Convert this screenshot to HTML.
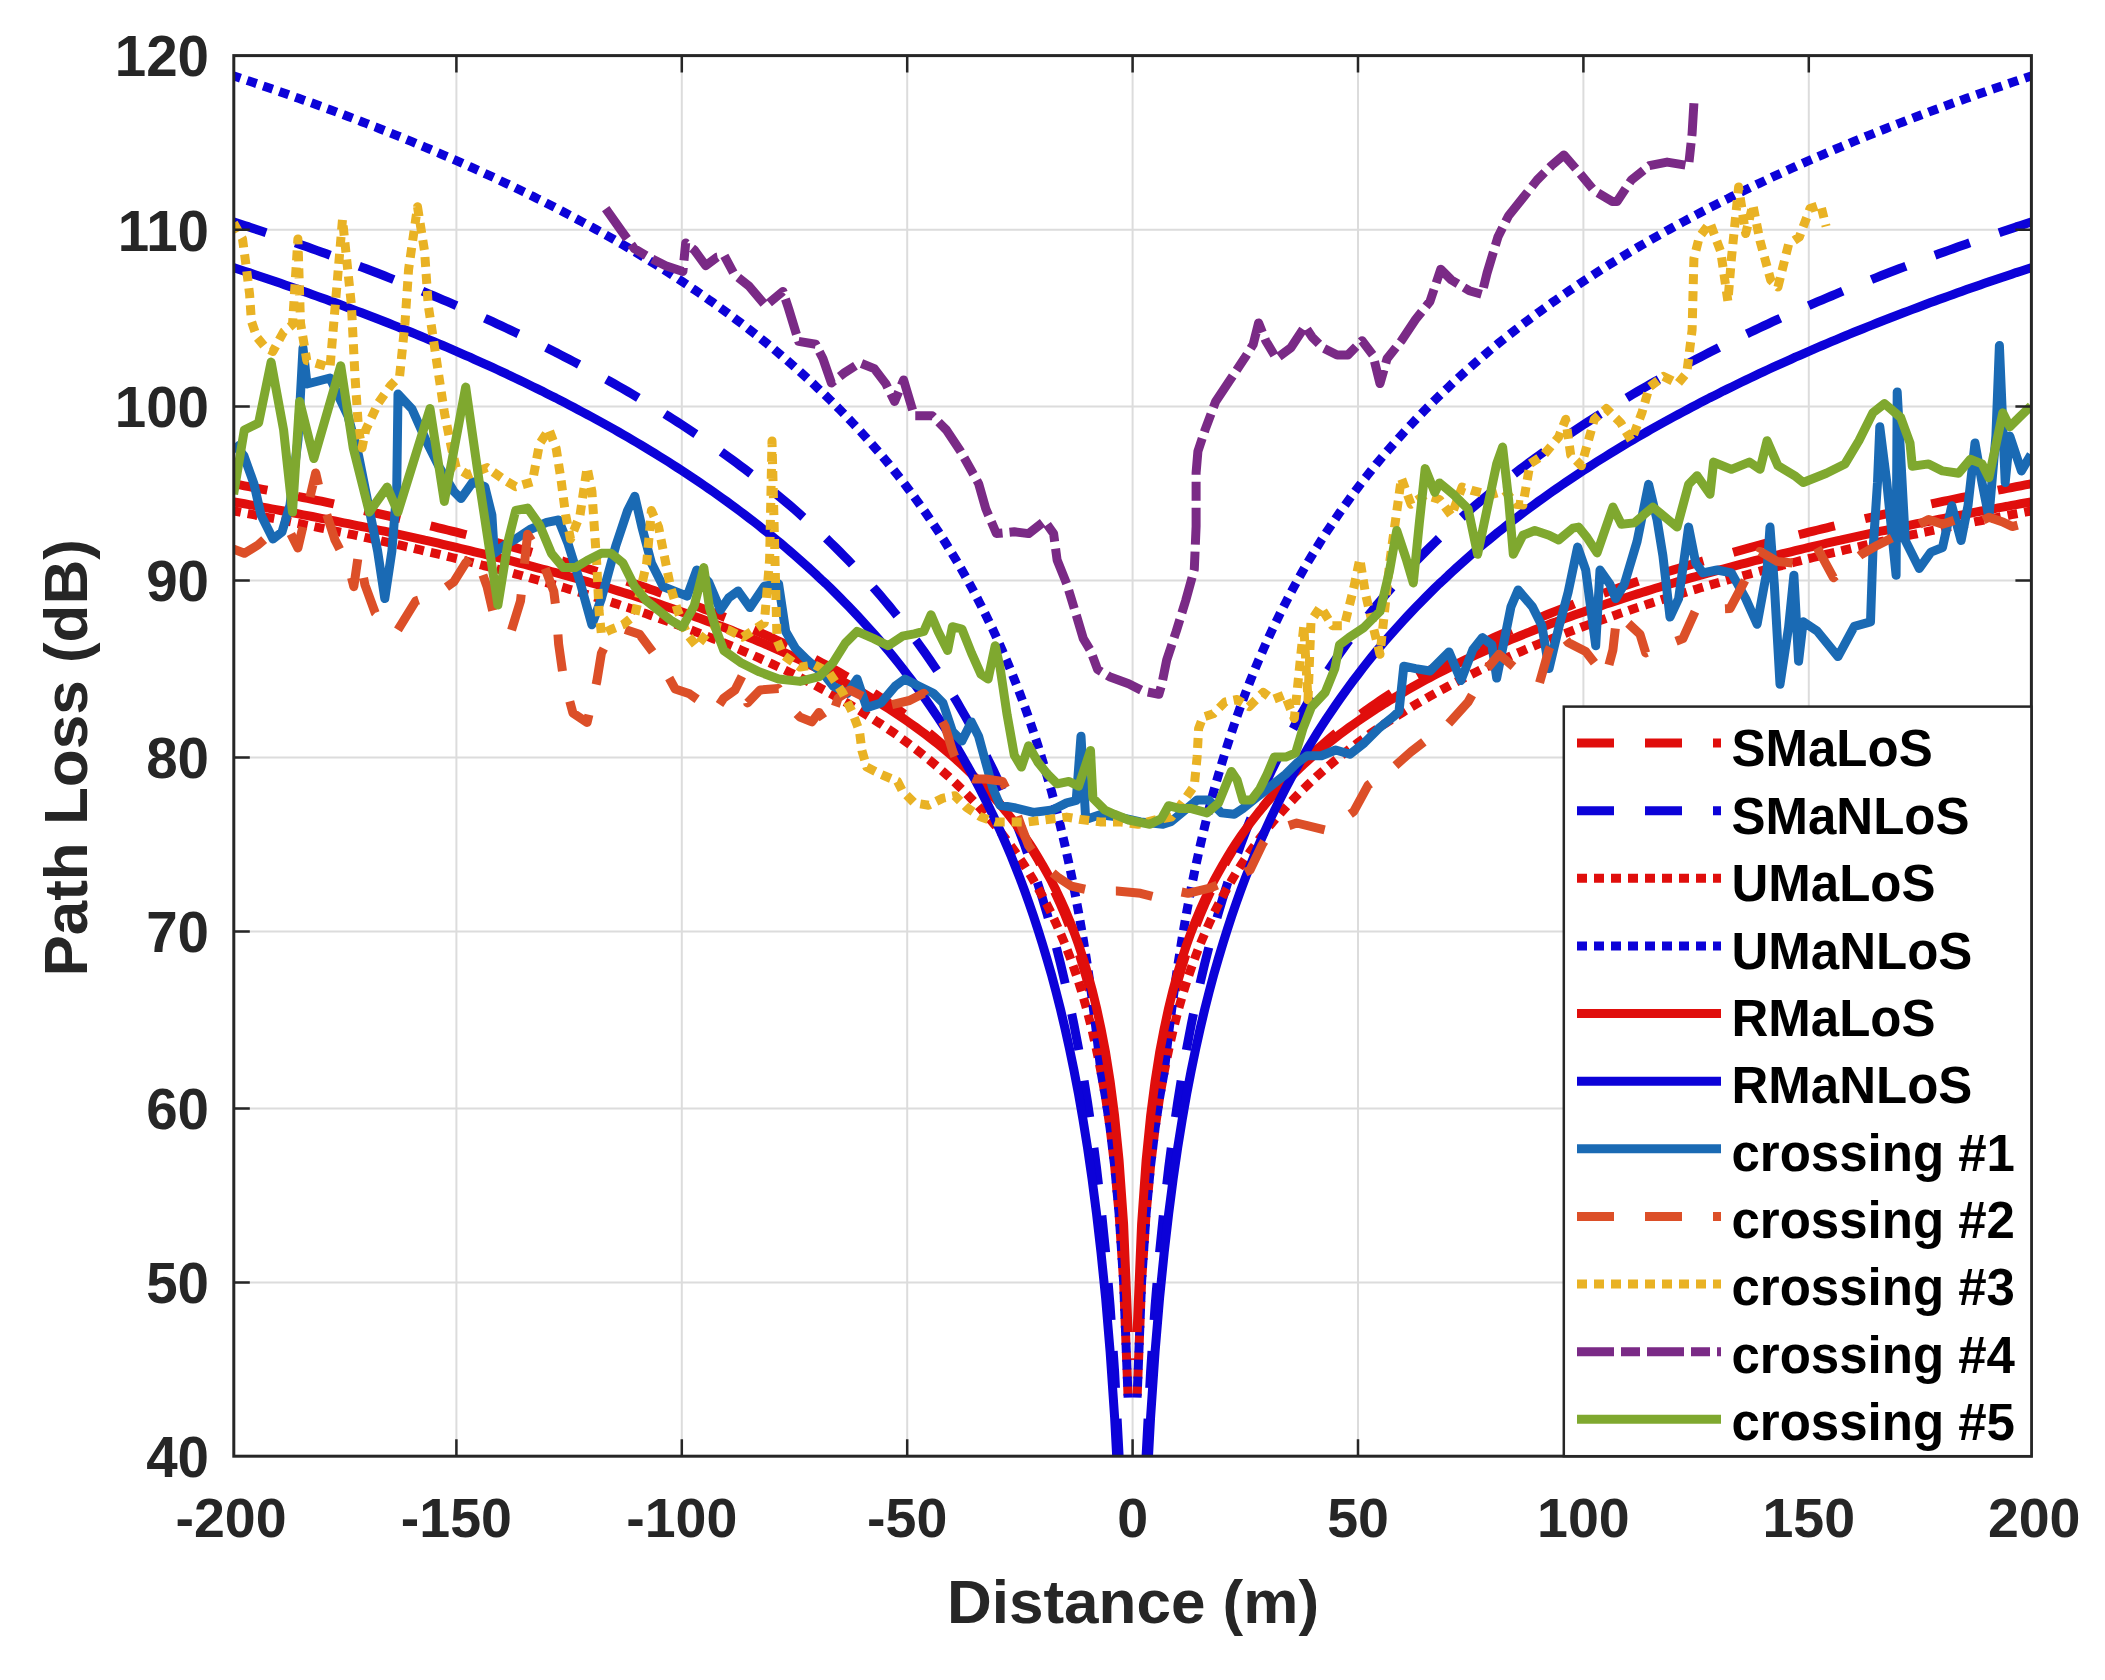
<!DOCTYPE html>
<html><head><meta charset="utf-8"><title>Path Loss vs Distance</title>
<style>html,body{margin:0;padding:0;background:#fff;overflow:hidden;}svg{display:block;}</style>
</head><body>
<svg width="2105" height="1680" viewBox="0 0 2105 1680">
<defs><clipPath id="c"><rect x="233.8" y="55.6" width="1797.6000000000001" height="1400.6000000000001"/></clipPath></defs>
<rect width="2105" height="1680" fill="#fff"/>
<path d="M456.4,55.6 V1456.2 M681.8,55.6 V1456.2 M907.2,55.6 V1456.2 M1132.6,55.6 V1456.2 M1358.0,55.6 V1456.2 M1583.4,55.6 V1456.2 M1808.8,55.6 V1456.2 M233.8,1282.5 H2031.4 M233.8,1108.6 H2031.4 M233.8,931.5 H2031.4 M233.8,757.5 H2031.4 M233.8,580.6 H2031.4 M233.8,406.5 H2031.4 M233.8,229.7 H2031.4" stroke="#dcdcdc" stroke-width="2" fill="none"/>
<g clip-path="url(#c)" fill="none" stroke-linejoin="round">
<path d="M231.0,483.2 L235.5,484.1 L240.0,484.9 L244.5,485.8 L249.0,486.7 L253.5,487.6 L258.0,488.4 L262.6,489.3 L267.1,490.2 L271.6,491.1 L276.1,492.0 L280.6,492.9 L285.1,493.8 L289.6,494.7 L294.1,495.6 L298.6,496.6 L303.1,497.5 L307.6,498.4 L312.1,499.3 L316.7,500.3 L321.2,501.2 L325.7,502.2 L330.2,503.1 L334.7,504.1 L339.2,505.1 L343.7,506.0 L348.2,507.0 L352.7,508.0 L357.2,509.0 L361.7,510.0 L366.2,511.0 L370.7,512.0 L375.3,513.0 L379.8,514.0 L384.3,515.0 L388.8,516.0 L393.3,517.1 L397.8,518.1 L402.3,519.2 L406.8,520.2 L411.3,521.3 L415.8,522.3 L420.3,523.4 L424.8,524.5 L429.4,525.6 L433.9,526.7 L438.4,527.8 L442.9,528.9 L447.4,530.0 L451.9,531.1 L456.4,532.2 L460.9,533.4 L465.4,534.5 L469.9,535.6 L474.4,536.8 L478.9,538.0 L483.4,539.1 L488.0,540.3 L492.5,541.5 L497.0,542.7 L501.5,543.9 L506.0,545.1 L510.5,546.3 L515.0,547.6 L519.5,548.8 L524.0,550.1 L528.5,551.3 L533.0,552.6 L537.5,553.8 L542.1,555.1 L546.6,556.4 L551.1,557.7 L555.6,559.0 L560.1,560.4 L564.6,561.7 L569.1,563.0 L573.6,564.4 L578.1,565.8 L582.6,567.1 L587.1,568.5 L591.6,569.9 L596.1,571.3 L600.7,572.7 L605.2,574.2 L609.7,575.6 L614.2,577.1 L618.7,578.6 L623.2,580.0 L627.7,581.5 L632.2,583.0 L636.7,584.6 L641.2,586.1 L645.7,587.6 L650.2,589.2 L654.8,590.8 L659.3,592.4 L663.8,594.0 L668.3,595.6 L672.8,597.2 L677.3,598.9 L681.8,600.6 L686.3,602.2 L690.8,603.9 L695.3,605.7 L699.8,607.4 L704.3,609.2 L708.8,610.9 L713.4,612.7 L717.9,614.5 L722.4,616.4 L726.9,618.2 L731.4,620.1 L735.9,622.0 L740.4,623.9 L744.9,625.8 L749.4,627.8 L753.9,629.8 L758.4,631.8 L762.9,633.8 L767.5,635.8 L772.0,637.9 L776.5,640.0 L781.0,642.1 L785.5,644.3 L790.0,646.5 L794.5,648.7 L799.0,650.9 L803.5,653.2 L808.0,655.5 L812.5,657.8 L817.0,660.2 L821.5,662.6 L826.1,665.0 L830.6,667.5 L835.1,670.0 L839.6,672.5 L844.1,675.1 L848.6,677.7 L853.1,680.4 L857.6,683.1 L862.1,685.8 L866.6,688.6 L871.1,691.5 L875.6,694.4 L880.2,697.3 L884.7,700.3 L889.2,703.4 L893.7,706.5 L898.2,709.6 L902.7,712.9 L907.2,716.1 L911.7,719.5 L916.2,722.9 L920.7,726.4 L925.2,730.0 L929.7,733.6 L934.2,737.3 L938.8,741.2 L943.3,745.1 L947.8,749.0 L952.3,753.1 L956.8,757.3 L961.3,761.6 L965.8,766.0 L970.3,770.6 L974.8,775.2 L979.3,780.0 L983.8,785.0 L988.3,790.1 L992.9,795.3 L997.4,800.7 L1001.9,806.3 L1006.4,812.1 L1010.9,818.1 L1015.4,824.4 L1019.9,830.8 L1024.4,837.6 L1028.9,844.6 L1033.4,851.9 L1037.9,859.6 L1042.4,867.7 L1046.9,876.1 L1051.5,885.0 L1056.0,894.5 L1060.5,904.4 L1065.0,915.1 L1069.5,926.4 L1074.0,938.6 L1078.5,951.8 L1083.0,966.2 L1087.5,981.8 L1092.0,999.2 L1096.5,1018.6 L1101.0,1040.5 L1105.6,1065.9 L1110.1,1095.8 L1114.6,1132.5 L1119.1,1179.8 L1123.6,1246.4 L1128.1,1360.3 M2034.2,483.2 L2029.7,484.1 L2025.2,484.9 L2020.7,485.8 L2016.2,486.7 L2011.7,487.6 L2007.2,488.4 L2002.6,489.3 L1998.1,490.2 L1993.6,491.1 L1989.1,492.0 L1984.6,492.9 L1980.1,493.8 L1975.6,494.7 L1971.1,495.6 L1966.6,496.6 L1962.1,497.5 L1957.6,498.4 L1953.1,499.3 L1948.5,500.3 L1944.0,501.2 L1939.5,502.2 L1935.0,503.1 L1930.5,504.1 L1926.0,505.1 L1921.5,506.0 L1917.0,507.0 L1912.5,508.0 L1908.0,509.0 L1903.5,510.0 L1899.0,511.0 L1894.5,512.0 L1889.9,513.0 L1885.4,514.0 L1880.9,515.0 L1876.4,516.0 L1871.9,517.1 L1867.4,518.1 L1862.9,519.2 L1858.4,520.2 L1853.9,521.3 L1849.4,522.3 L1844.9,523.4 L1840.4,524.5 L1835.8,525.6 L1831.3,526.7 L1826.8,527.8 L1822.3,528.9 L1817.8,530.0 L1813.3,531.1 L1808.8,532.2 L1804.3,533.4 L1799.8,534.5 L1795.3,535.6 L1790.8,536.8 L1786.3,538.0 L1781.8,539.1 L1777.2,540.3 L1772.7,541.5 L1768.2,542.7 L1763.7,543.9 L1759.2,545.1 L1754.7,546.3 L1750.2,547.6 L1745.7,548.8 L1741.2,550.1 L1736.7,551.3 L1732.2,552.6 L1727.7,553.8 L1723.1,555.1 L1718.6,556.4 L1714.1,557.7 L1709.6,559.0 L1705.1,560.4 L1700.6,561.7 L1696.1,563.0 L1691.6,564.4 L1687.1,565.8 L1682.6,567.1 L1678.1,568.5 L1673.6,569.9 L1669.1,571.3 L1664.5,572.7 L1660.0,574.2 L1655.5,575.6 L1651.0,577.1 L1646.5,578.6 L1642.0,580.0 L1637.5,581.5 L1633.0,583.0 L1628.5,584.6 L1624.0,586.1 L1619.5,587.6 L1615.0,589.2 L1610.4,590.8 L1605.9,592.4 L1601.4,594.0 L1596.9,595.6 L1592.4,597.2 L1587.9,598.9 L1583.4,600.6 L1578.9,602.2 L1574.4,603.9 L1569.9,605.7 L1565.4,607.4 L1560.9,609.2 L1556.4,610.9 L1551.8,612.7 L1547.3,614.5 L1542.8,616.4 L1538.3,618.2 L1533.8,620.1 L1529.3,622.0 L1524.8,623.9 L1520.3,625.8 L1515.8,627.8 L1511.3,629.8 L1506.8,631.8 L1502.3,633.8 L1497.7,635.8 L1493.2,637.9 L1488.7,640.0 L1484.2,642.1 L1479.7,644.3 L1475.2,646.5 L1470.7,648.7 L1466.2,650.9 L1461.7,653.2 L1457.2,655.5 L1452.7,657.8 L1448.2,660.2 L1443.7,662.6 L1439.1,665.0 L1434.6,667.5 L1430.1,670.0 L1425.6,672.5 L1421.1,675.1 L1416.6,677.7 L1412.1,680.4 L1407.6,683.1 L1403.1,685.8 L1398.6,688.6 L1394.1,691.5 L1389.6,694.4 L1385.0,697.3 L1380.5,700.3 L1376.0,703.4 L1371.5,706.5 L1367.0,709.6 L1362.5,712.9 L1358.0,716.1 L1353.5,719.5 L1349.0,722.9 L1344.5,726.4 L1340.0,730.0 L1335.5,733.6 L1331.0,737.3 L1326.4,741.2 L1321.9,745.1 L1317.4,749.0 L1312.9,753.1 L1308.4,757.3 L1303.9,761.6 L1299.4,766.0 L1294.9,770.6 L1290.4,775.2 L1285.9,780.0 L1281.4,785.0 L1276.9,790.1 L1272.3,795.3 L1267.8,800.7 L1263.3,806.3 L1258.8,812.1 L1254.3,818.1 L1249.8,824.4 L1245.3,830.8 L1240.8,837.6 L1236.3,844.6 L1231.8,851.9 L1227.3,859.6 L1222.8,867.7 L1218.3,876.1 L1213.7,885.0 L1209.2,894.5 L1204.7,904.4 L1200.2,915.1 L1195.7,926.4 L1191.2,938.6 L1186.7,951.8 L1182.2,966.2 L1177.7,981.8 L1173.2,999.2 L1168.7,1018.6 L1164.2,1040.5 L1159.6,1065.9 L1155.1,1095.8 L1150.6,1132.5 L1146.1,1179.8 L1141.6,1246.4 L1137.1,1360.3" stroke="#e00e0c" stroke-width="9" stroke-dasharray="37 31"/>
<path d="M231.0,221.0 L235.5,222.5 L240.0,224.0 L244.5,225.5 L249.0,226.9 L253.5,228.5 L258.0,230.0 L262.6,231.5 L267.1,233.0 L271.6,234.5 L276.1,236.1 L280.6,237.6 L285.1,239.2 L289.6,240.8 L294.1,242.3 L298.6,243.9 L303.1,245.5 L307.6,247.1 L312.1,248.7 L316.7,250.4 L321.2,252.0 L325.7,253.6 L330.2,255.3 L334.7,256.9 L339.2,258.6 L343.7,260.3 L348.2,262.0 L352.7,263.7 L357.2,265.4 L361.7,267.1 L366.2,268.8 L370.7,270.5 L375.3,272.3 L379.8,274.0 L384.3,275.8 L388.8,277.6 L393.3,279.4 L397.8,281.2 L402.3,283.0 L406.8,284.8 L411.3,286.6 L415.8,288.5 L420.3,290.3 L424.8,292.2 L429.4,294.1 L433.9,296.0 L438.4,297.9 L442.9,299.8 L447.4,301.7 L451.9,303.6 L456.4,305.6 L460.9,307.6 L465.4,309.6 L469.9,311.5 L474.4,313.6 L478.9,315.6 L483.4,317.6 L488.0,319.7 L492.5,321.7 L497.0,323.8 L501.5,325.9 L506.0,328.0 L510.5,330.1 L515.0,332.3 L519.5,334.4 L524.0,336.6 L528.5,338.8 L533.0,341.0 L537.5,343.2 L542.1,345.4 L546.6,347.7 L551.1,350.0 L555.6,352.2 L560.1,354.6 L564.6,356.9 L569.1,359.2 L573.6,361.6 L578.1,364.0 L582.6,366.4 L587.1,368.8 L591.6,371.2 L596.1,373.7 L600.7,376.2 L605.2,378.7 L609.7,381.2 L614.2,383.7 L618.7,386.3 L623.2,388.9 L627.7,391.5 L632.2,394.1 L636.7,396.8 L641.2,399.5 L645.7,402.2 L650.2,404.9 L654.8,407.7 L659.3,410.5 L663.8,413.3 L668.3,416.1 L672.8,419.0 L677.3,421.9 L681.8,424.8 L686.3,427.8 L690.8,430.8 L695.3,433.8 L699.8,436.8 L704.3,439.9 L708.8,443.0 L713.4,446.2 L717.9,449.4 L722.4,452.6 L726.9,455.8 L731.4,459.1 L735.9,462.4 L740.4,465.8 L744.9,469.2 L749.4,472.6 L753.9,476.1 L758.4,479.6 L762.9,483.2 L767.5,486.8 L772.0,490.5 L776.5,494.2 L781.0,497.9 L785.5,501.7 L790.0,505.5 L794.5,509.4 L799.0,513.4 L803.5,517.4 L808.0,521.4 L812.5,525.6 L817.0,529.7 L821.5,534.0 L826.1,538.2 L830.6,542.6 L835.1,547.0 L839.6,551.5 L844.1,556.1 L848.6,560.7 L853.1,565.4 L857.6,570.2 L862.1,575.1 L866.6,580.0 L871.1,585.0 L875.6,590.1 L880.2,595.3 L884.7,600.6 L889.2,606.0 L893.7,611.5 L898.2,617.1 L902.7,622.8 L907.2,628.7 L911.7,634.6 L916.2,640.7 L920.7,646.9 L925.2,653.2 L929.7,659.6 L934.2,666.3 L938.8,673.0 L943.3,679.9 L947.8,687.0 L952.3,694.3 L956.8,701.7 L961.3,709.4 L965.8,717.2 L970.3,725.3 L974.8,733.6 L979.3,742.1 L983.8,750.9 L988.3,759.9 L992.9,769.2 L997.4,778.9 L1001.9,788.9 L1006.4,799.2 L1010.9,809.9 L1015.4,821.0 L1019.9,832.5 L1024.4,844.5 L1028.9,857.0 L1033.4,870.1 L1037.9,883.8 L1042.4,898.1 L1046.9,913.2 L1051.5,929.1 L1056.0,945.9 L1060.5,963.7 L1065.0,982.7 L1069.5,1003.0 L1074.0,1024.8 L1078.5,1048.3 L1083.0,1073.9 L1087.5,1101.9 L1092.0,1132.9 L1096.5,1167.6 L1101.0,1206.8 L1105.6,1252.2 L1110.1,1305.8 L1114.6,1371.4 L1119.1,1456.0 L1123.6,1575.2 L1128.1,1779.1 M2034.2,221.0 L2029.7,222.5 L2025.2,224.0 L2020.7,225.5 L2016.2,226.9 L2011.7,228.5 L2007.2,230.0 L2002.6,231.5 L1998.1,233.0 L1993.6,234.5 L1989.1,236.1 L1984.6,237.6 L1980.1,239.2 L1975.6,240.8 L1971.1,242.3 L1966.6,243.9 L1962.1,245.5 L1957.6,247.1 L1953.1,248.7 L1948.5,250.4 L1944.0,252.0 L1939.5,253.6 L1935.0,255.3 L1930.5,256.9 L1926.0,258.6 L1921.5,260.3 L1917.0,262.0 L1912.5,263.7 L1908.0,265.4 L1903.5,267.1 L1899.0,268.8 L1894.5,270.5 L1889.9,272.3 L1885.4,274.0 L1880.9,275.8 L1876.4,277.6 L1871.9,279.4 L1867.4,281.2 L1862.9,283.0 L1858.4,284.8 L1853.9,286.6 L1849.4,288.5 L1844.9,290.3 L1840.4,292.2 L1835.8,294.1 L1831.3,296.0 L1826.8,297.9 L1822.3,299.8 L1817.8,301.7 L1813.3,303.6 L1808.8,305.6 L1804.3,307.6 L1799.8,309.6 L1795.3,311.5 L1790.8,313.6 L1786.3,315.6 L1781.8,317.6 L1777.2,319.7 L1772.7,321.7 L1768.2,323.8 L1763.7,325.9 L1759.2,328.0 L1754.7,330.1 L1750.2,332.3 L1745.7,334.4 L1741.2,336.6 L1736.7,338.8 L1732.2,341.0 L1727.7,343.2 L1723.1,345.4 L1718.6,347.7 L1714.1,350.0 L1709.6,352.2 L1705.1,354.6 L1700.6,356.9 L1696.1,359.2 L1691.6,361.6 L1687.1,364.0 L1682.6,366.4 L1678.1,368.8 L1673.6,371.2 L1669.1,373.7 L1664.5,376.2 L1660.0,378.7 L1655.5,381.2 L1651.0,383.7 L1646.5,386.3 L1642.0,388.9 L1637.5,391.5 L1633.0,394.1 L1628.5,396.8 L1624.0,399.5 L1619.5,402.2 L1615.0,404.9 L1610.4,407.7 L1605.9,410.5 L1601.4,413.3 L1596.9,416.1 L1592.4,419.0 L1587.9,421.9 L1583.4,424.8 L1578.9,427.8 L1574.4,430.8 L1569.9,433.8 L1565.4,436.8 L1560.9,439.9 L1556.4,443.0 L1551.8,446.2 L1547.3,449.4 L1542.8,452.6 L1538.3,455.8 L1533.8,459.1 L1529.3,462.4 L1524.8,465.8 L1520.3,469.2 L1515.8,472.6 L1511.3,476.1 L1506.8,479.6 L1502.3,483.2 L1497.7,486.8 L1493.2,490.5 L1488.7,494.2 L1484.2,497.9 L1479.7,501.7 L1475.2,505.5 L1470.7,509.4 L1466.2,513.4 L1461.7,517.4 L1457.2,521.4 L1452.7,525.6 L1448.2,529.7 L1443.7,534.0 L1439.1,538.2 L1434.6,542.6 L1430.1,547.0 L1425.6,551.5 L1421.1,556.1 L1416.6,560.7 L1412.1,565.4 L1407.6,570.2 L1403.1,575.1 L1398.6,580.0 L1394.1,585.0 L1389.6,590.1 L1385.0,595.3 L1380.5,600.6 L1376.0,606.0 L1371.5,611.5 L1367.0,617.1 L1362.5,622.8 L1358.0,628.7 L1353.5,634.6 L1349.0,640.7 L1344.5,646.9 L1340.0,653.2 L1335.5,659.6 L1331.0,666.3 L1326.4,673.0 L1321.9,679.9 L1317.4,687.0 L1312.9,694.3 L1308.4,701.7 L1303.9,709.4 L1299.4,717.2 L1294.9,725.3 L1290.4,733.6 L1285.9,742.1 L1281.4,750.9 L1276.9,759.9 L1272.3,769.2 L1267.8,778.9 L1263.3,788.9 L1258.8,799.2 L1254.3,809.9 L1249.8,821.0 L1245.3,832.5 L1240.8,844.5 L1236.3,857.0 L1231.8,870.1 L1227.3,883.8 L1222.8,898.1 L1218.3,913.2 L1213.7,929.1 L1209.2,945.9 L1204.7,963.7 L1200.2,982.7 L1195.7,1003.0 L1191.2,1024.8 L1186.7,1048.3 L1182.2,1073.9 L1177.7,1101.9 L1173.2,1132.9 L1168.7,1167.6 L1164.2,1206.8 L1159.6,1252.2 L1155.1,1305.8 L1150.6,1371.4 L1146.1,1456.0 L1141.6,1575.2 L1137.1,1779.1" stroke="#0c02d8" stroke-width="9" stroke-dasharray="37 31"/>
<path d="M231.0,510.5 L235.5,511.3 L240.0,512.1 L244.5,513.0 L249.0,513.8 L253.5,514.7 L258.0,515.6 L262.6,516.4 L267.1,517.3 L271.6,518.2 L276.1,519.0 L280.6,519.9 L285.1,520.8 L289.6,521.7 L294.1,522.6 L298.6,523.5 L303.1,524.4 L307.6,525.3 L312.1,526.2 L316.7,527.2 L321.2,528.1 L325.7,529.0 L330.2,530.0 L334.7,530.9 L339.2,531.9 L343.7,532.8 L348.2,533.8 L352.7,534.7 L357.2,535.7 L361.7,536.7 L366.2,537.7 L370.7,538.7 L375.3,539.6 L379.8,540.6 L384.3,541.7 L388.8,542.7 L393.3,543.7 L397.8,544.7 L402.3,545.7 L406.8,546.8 L411.3,547.8 L415.8,548.9 L420.3,549.9 L424.8,551.0 L429.4,552.1 L433.9,553.1 L438.4,554.2 L442.9,555.3 L447.4,556.4 L451.9,557.5 L456.4,558.6 L460.9,559.7 L465.4,560.9 L469.9,562.0 L474.4,563.2 L478.9,564.3 L483.4,565.5 L488.0,566.6 L492.5,567.8 L497.0,569.0 L501.5,570.2 L506.0,571.4 L510.5,572.6 L515.0,573.8 L519.5,575.0 L524.0,576.3 L528.5,577.5 L533.0,578.8 L537.5,580.0 L542.1,581.3 L546.6,582.6 L551.1,583.9 L555.6,585.2 L560.1,586.5 L564.6,587.8 L569.1,589.2 L573.6,590.5 L578.1,591.9 L582.6,593.2 L587.1,594.6 L591.6,596.0 L596.1,597.4 L600.7,598.8 L605.2,600.2 L609.7,601.7 L614.2,603.1 L618.7,604.6 L623.2,606.1 L627.7,607.5 L632.2,609.0 L636.7,610.6 L641.2,612.1 L645.7,613.6 L650.2,615.2 L654.8,616.8 L659.3,618.4 L663.8,620.0 L668.3,621.6 L672.8,623.2 L677.3,624.9 L681.8,626.5 L686.3,628.2 L690.8,629.9 L695.3,631.6 L699.8,633.4 L704.3,635.1 L708.8,636.9 L713.4,638.7 L717.9,640.5 L722.4,642.3 L726.9,644.2 L731.4,646.0 L735.9,647.9 L740.4,649.8 L744.9,651.8 L749.4,653.7 L753.9,655.7 L758.4,657.7 L762.9,659.8 L767.5,661.8 L772.0,663.9 L776.5,666.0 L781.0,668.1 L785.5,670.3 L790.0,672.5 L794.5,674.7 L799.0,676.9 L803.5,679.2 L808.0,681.5 L812.5,683.9 L817.0,686.3 L821.5,688.7 L826.1,691.1 L830.6,693.6 L835.1,696.1 L839.6,698.7 L844.1,701.3 L848.6,703.9 L853.1,706.6 L857.6,709.3 L862.1,712.1 L866.6,714.9 L871.1,717.7 L875.6,720.7 L880.2,723.6 L884.7,726.6 L889.2,729.7 L893.7,732.8 L898.2,736.0 L902.7,739.3 L907.2,742.6 L911.7,746.0 L916.2,749.4 L920.7,753.0 L925.2,756.6 L929.7,760.2 L934.2,764.0 L938.8,767.9 L943.3,771.8 L947.8,775.8 L952.3,780.0 L956.8,784.2 L961.3,788.6 L965.8,793.0 L970.3,797.6 L974.8,802.3 L979.3,807.2 L983.8,812.2 L988.3,817.3 L992.9,822.6 L997.4,828.1 L1001.9,833.8 L1006.4,839.7 L1010.9,845.8 L1015.4,852.1 L1019.9,858.7 L1024.4,865.5 L1028.9,872.6 L1033.4,880.1 L1037.9,887.9 L1042.4,896.0 L1046.9,904.6 L1051.5,913.7 L1056.0,923.3 L1060.5,933.4 L1065.0,944.2 L1069.5,955.8 L1074.0,968.2 L1078.5,981.6 L1083.0,996.1 L1087.5,1012.1 L1092.0,1029.8 L1096.5,1049.5 L1101.0,1071.8 L1105.6,1097.6 L1110.1,1128.2 L1114.6,1165.5 L1119.1,1213.7 L1123.6,1281.6 L1128.1,1397.7 M2034.2,510.5 L2029.7,511.3 L2025.2,512.1 L2020.7,513.0 L2016.2,513.8 L2011.7,514.7 L2007.2,515.6 L2002.6,516.4 L1998.1,517.3 L1993.6,518.2 L1989.1,519.0 L1984.6,519.9 L1980.1,520.8 L1975.6,521.7 L1971.1,522.6 L1966.6,523.5 L1962.1,524.4 L1957.6,525.3 L1953.1,526.2 L1948.5,527.2 L1944.0,528.1 L1939.5,529.0 L1935.0,530.0 L1930.5,530.9 L1926.0,531.9 L1921.5,532.8 L1917.0,533.8 L1912.5,534.7 L1908.0,535.7 L1903.5,536.7 L1899.0,537.7 L1894.5,538.7 L1889.9,539.6 L1885.4,540.6 L1880.9,541.7 L1876.4,542.7 L1871.9,543.7 L1867.4,544.7 L1862.9,545.7 L1858.4,546.8 L1853.9,547.8 L1849.4,548.9 L1844.9,549.9 L1840.4,551.0 L1835.8,552.1 L1831.3,553.1 L1826.8,554.2 L1822.3,555.3 L1817.8,556.4 L1813.3,557.5 L1808.8,558.6 L1804.3,559.7 L1799.8,560.9 L1795.3,562.0 L1790.8,563.2 L1786.3,564.3 L1781.8,565.5 L1777.2,566.6 L1772.7,567.8 L1768.2,569.0 L1763.7,570.2 L1759.2,571.4 L1754.7,572.6 L1750.2,573.8 L1745.7,575.0 L1741.2,576.3 L1736.7,577.5 L1732.2,578.8 L1727.7,580.0 L1723.1,581.3 L1718.6,582.6 L1714.1,583.9 L1709.6,585.2 L1705.1,586.5 L1700.6,587.8 L1696.1,589.2 L1691.6,590.5 L1687.1,591.9 L1682.6,593.2 L1678.1,594.6 L1673.6,596.0 L1669.1,597.4 L1664.5,598.8 L1660.0,600.2 L1655.5,601.7 L1651.0,603.1 L1646.5,604.6 L1642.0,606.1 L1637.5,607.5 L1633.0,609.0 L1628.5,610.6 L1624.0,612.1 L1619.5,613.6 L1615.0,615.2 L1610.4,616.8 L1605.9,618.4 L1601.4,620.0 L1596.9,621.6 L1592.4,623.2 L1587.9,624.9 L1583.4,626.5 L1578.9,628.2 L1574.4,629.9 L1569.9,631.6 L1565.4,633.4 L1560.9,635.1 L1556.4,636.9 L1551.8,638.7 L1547.3,640.5 L1542.8,642.3 L1538.3,644.2 L1533.8,646.0 L1529.3,647.9 L1524.8,649.8 L1520.3,651.8 L1515.8,653.7 L1511.3,655.7 L1506.8,657.7 L1502.3,659.8 L1497.7,661.8 L1493.2,663.9 L1488.7,666.0 L1484.2,668.1 L1479.7,670.3 L1475.2,672.5 L1470.7,674.7 L1466.2,676.9 L1461.7,679.2 L1457.2,681.5 L1452.7,683.9 L1448.2,686.3 L1443.7,688.7 L1439.1,691.1 L1434.6,693.6 L1430.1,696.1 L1425.6,698.7 L1421.1,701.3 L1416.6,703.9 L1412.1,706.6 L1407.6,709.3 L1403.1,712.1 L1398.6,714.9 L1394.1,717.7 L1389.6,720.7 L1385.0,723.6 L1380.5,726.6 L1376.0,729.7 L1371.5,732.8 L1367.0,736.0 L1362.5,739.3 L1358.0,742.6 L1353.5,746.0 L1349.0,749.4 L1344.5,753.0 L1340.0,756.6 L1335.5,760.2 L1331.0,764.0 L1326.4,767.9 L1321.9,771.8 L1317.4,775.8 L1312.9,780.0 L1308.4,784.2 L1303.9,788.6 L1299.4,793.0 L1294.9,797.6 L1290.4,802.3 L1285.9,807.2 L1281.4,812.2 L1276.9,817.3 L1272.3,822.6 L1267.8,828.1 L1263.3,833.8 L1258.8,839.7 L1254.3,845.8 L1249.8,852.1 L1245.3,858.7 L1240.8,865.5 L1236.3,872.6 L1231.8,880.1 L1227.3,887.9 L1222.8,896.0 L1218.3,904.6 L1213.7,913.7 L1209.2,923.3 L1204.7,933.4 L1200.2,944.2 L1195.7,955.8 L1191.2,968.2 L1186.7,981.6 L1182.2,996.1 L1177.7,1012.1 L1173.2,1029.8 L1168.7,1049.5 L1164.2,1071.8 L1159.6,1097.6 L1155.1,1128.2 L1150.6,1165.5 L1146.1,1213.7 L1141.6,1281.6 L1137.1,1397.7" stroke="#e00e0c" stroke-width="9" stroke-dasharray="10 7"/>
<path d="M231.0,75.1 L235.5,76.6 L240.0,78.1 L244.5,79.6 L249.0,81.1 L253.5,82.6 L258.0,84.1 L262.6,85.7 L267.1,87.2 L271.6,88.8 L276.1,90.3 L280.6,91.9 L285.1,93.5 L289.6,95.1 L294.1,96.7 L298.6,98.3 L303.1,99.9 L307.6,101.5 L312.1,103.1 L316.7,104.8 L321.2,106.4 L325.7,108.1 L330.2,109.7 L334.7,111.4 L339.2,113.1 L343.7,114.8 L348.2,116.5 L352.7,118.2 L357.2,119.9 L361.7,121.7 L366.2,123.4 L370.7,125.2 L375.3,126.9 L379.8,128.7 L384.3,130.5 L388.8,132.3 L393.3,134.1 L397.8,135.9 L402.3,137.7 L406.8,139.6 L411.3,141.4 L415.8,143.3 L420.3,145.2 L424.8,147.1 L429.4,149.0 L433.9,150.9 L438.4,152.8 L442.9,154.8 L447.4,156.7 L451.9,158.7 L456.4,160.6 L460.9,162.6 L465.4,164.6 L469.9,166.7 L474.4,168.7 L478.9,170.7 L483.4,172.8 L488.0,174.9 L492.5,176.9 L497.0,179.0 L501.5,181.2 L506.0,183.3 L510.5,185.4 L515.0,187.6 L519.5,189.8 L524.0,192.0 L528.5,194.2 L533.0,196.4 L537.5,198.7 L542.1,200.9 L546.6,203.2 L551.1,205.5 L555.6,207.8 L560.1,210.2 L564.6,212.5 L569.1,214.9 L573.6,217.3 L578.1,219.7 L582.6,222.1 L587.1,224.6 L591.6,227.0 L596.1,229.5 L600.7,232.0 L605.2,234.6 L609.7,237.1 L614.2,239.7 L618.7,242.3 L623.2,244.9 L627.7,247.5 L632.2,250.2 L636.7,252.9 L641.2,255.6 L645.7,258.4 L650.2,261.1 L654.8,263.9 L659.3,266.7 L663.8,269.6 L668.3,272.5 L672.8,275.4 L677.3,278.3 L681.8,281.3 L686.3,284.2 L690.8,287.3 L695.3,290.3 L699.8,293.4 L704.3,296.5 L708.8,299.7 L713.4,302.8 L717.9,306.1 L722.4,309.3 L726.9,312.6 L731.4,315.9 L735.9,319.3 L740.4,322.7 L744.9,326.1 L749.4,329.6 L753.9,333.1 L758.4,336.7 L762.9,340.3 L767.5,343.9 L772.0,347.6 L776.5,351.4 L781.0,355.2 L785.5,359.0 L790.0,362.9 L794.5,366.8 L799.0,370.8 L803.5,374.9 L808.0,379.0 L812.5,383.1 L817.0,387.4 L821.5,391.6 L826.1,396.0 L830.6,400.4 L835.1,404.9 L839.6,409.4 L844.1,414.0 L848.6,418.7 L853.1,423.5 L857.6,428.3 L862.1,433.2 L866.6,438.2 L871.1,443.3 L875.6,448.5 L880.2,453.7 L884.7,459.1 L889.2,464.5 L893.7,470.1 L898.2,475.8 L902.7,481.5 L907.2,487.4 L911.7,493.4 L916.2,499.6 L920.7,505.8 L925.2,512.2 L929.7,518.8 L934.2,525.5 L938.8,532.3 L943.3,539.3 L947.8,546.5 L952.3,553.8 L956.8,561.3 L961.3,569.1 L965.8,577.0 L970.3,585.2 L974.8,593.5 L979.3,602.2 L983.8,611.0 L988.3,620.2 L992.9,629.6 L997.4,639.4 L1001.9,649.5 L1006.4,659.9 L1010.9,670.7 L1015.4,682.0 L1019.9,693.6 L1024.4,705.8 L1028.9,718.4 L1033.4,731.7 L1037.9,745.5 L1042.4,760.0 L1046.9,775.3 L1051.5,791.3 L1056.0,808.3 L1060.5,826.4 L1065.0,845.6 L1069.5,866.1 L1074.0,888.1 L1078.5,912.0 L1083.0,937.8 L1087.5,966.2 L1092.0,997.5 L1096.5,1032.6 L1101.0,1071.8 L1105.6,1097.6 L1110.1,1128.2 L1114.6,1165.5 L1119.1,1213.7 L1123.6,1281.6 L1128.1,1397.7 M2034.2,75.1 L2029.7,76.6 L2025.2,78.1 L2020.7,79.6 L2016.2,81.1 L2011.7,82.6 L2007.2,84.1 L2002.6,85.7 L1998.1,87.2 L1993.6,88.8 L1989.1,90.3 L1984.6,91.9 L1980.1,93.5 L1975.6,95.1 L1971.1,96.7 L1966.6,98.3 L1962.1,99.9 L1957.6,101.5 L1953.1,103.1 L1948.5,104.8 L1944.0,106.4 L1939.5,108.1 L1935.0,109.7 L1930.5,111.4 L1926.0,113.1 L1921.5,114.8 L1917.0,116.5 L1912.5,118.2 L1908.0,119.9 L1903.5,121.7 L1899.0,123.4 L1894.5,125.2 L1889.9,126.9 L1885.4,128.7 L1880.9,130.5 L1876.4,132.3 L1871.9,134.1 L1867.4,135.9 L1862.9,137.7 L1858.4,139.6 L1853.9,141.4 L1849.4,143.3 L1844.9,145.2 L1840.4,147.1 L1835.8,149.0 L1831.3,150.9 L1826.8,152.8 L1822.3,154.8 L1817.8,156.7 L1813.3,158.7 L1808.8,160.6 L1804.3,162.6 L1799.8,164.6 L1795.3,166.7 L1790.8,168.7 L1786.3,170.7 L1781.8,172.8 L1777.2,174.9 L1772.7,176.9 L1768.2,179.0 L1763.7,181.2 L1759.2,183.3 L1754.7,185.4 L1750.2,187.6 L1745.7,189.8 L1741.2,192.0 L1736.7,194.2 L1732.2,196.4 L1727.7,198.7 L1723.1,200.9 L1718.6,203.2 L1714.1,205.5 L1709.6,207.8 L1705.1,210.2 L1700.6,212.5 L1696.1,214.9 L1691.6,217.3 L1687.1,219.7 L1682.6,222.1 L1678.1,224.6 L1673.6,227.0 L1669.1,229.5 L1664.5,232.0 L1660.0,234.6 L1655.5,237.1 L1651.0,239.7 L1646.5,242.3 L1642.0,244.9 L1637.5,247.5 L1633.0,250.2 L1628.5,252.9 L1624.0,255.6 L1619.5,258.4 L1615.0,261.1 L1610.4,263.9 L1605.9,266.7 L1601.4,269.6 L1596.9,272.5 L1592.4,275.4 L1587.9,278.3 L1583.4,281.3 L1578.9,284.2 L1574.4,287.3 L1569.9,290.3 L1565.4,293.4 L1560.9,296.5 L1556.4,299.7 L1551.8,302.8 L1547.3,306.1 L1542.8,309.3 L1538.3,312.6 L1533.8,315.9 L1529.3,319.3 L1524.8,322.7 L1520.3,326.1 L1515.8,329.6 L1511.3,333.1 L1506.8,336.7 L1502.3,340.3 L1497.7,343.9 L1493.2,347.6 L1488.7,351.4 L1484.2,355.2 L1479.7,359.0 L1475.2,362.9 L1470.7,366.8 L1466.2,370.8 L1461.7,374.9 L1457.2,379.0 L1452.7,383.1 L1448.2,387.4 L1443.7,391.6 L1439.1,396.0 L1434.6,400.4 L1430.1,404.9 L1425.6,409.4 L1421.1,414.0 L1416.6,418.7 L1412.1,423.5 L1407.6,428.3 L1403.1,433.2 L1398.6,438.2 L1394.1,443.3 L1389.6,448.5 L1385.0,453.7 L1380.5,459.1 L1376.0,464.5 L1371.5,470.1 L1367.0,475.8 L1362.5,481.5 L1358.0,487.4 L1353.5,493.4 L1349.0,499.6 L1344.5,505.8 L1340.0,512.2 L1335.5,518.8 L1331.0,525.5 L1326.4,532.3 L1321.9,539.3 L1317.4,546.5 L1312.9,553.8 L1308.4,561.3 L1303.9,569.1 L1299.4,577.0 L1294.9,585.2 L1290.4,593.5 L1285.9,602.2 L1281.4,611.0 L1276.9,620.2 L1272.3,629.6 L1267.8,639.4 L1263.3,649.5 L1258.8,659.9 L1254.3,670.7 L1249.8,682.0 L1245.3,693.6 L1240.8,705.8 L1236.3,718.4 L1231.8,731.7 L1227.3,745.5 L1222.8,760.0 L1218.3,775.3 L1213.7,791.3 L1209.2,808.3 L1204.7,826.4 L1200.2,845.6 L1195.7,866.1 L1191.2,888.1 L1186.7,912.0 L1182.2,937.8 L1177.7,966.2 L1173.2,997.5 L1168.7,1032.6 L1164.2,1071.8 L1159.6,1097.6 L1155.1,1128.2 L1150.6,1165.5 L1146.1,1213.7 L1141.6,1281.6 L1137.1,1397.7" stroke="#0c02d8" stroke-width="9" stroke-dasharray="10 7"/>
<path d="M231.0,501.4 L235.5,502.2 L240.0,503.0 L244.5,503.8 L249.0,504.6 L253.5,505.4 L258.0,506.3 L262.6,507.1 L267.1,507.9 L271.6,508.8 L276.1,509.6 L280.6,510.5 L285.1,511.3 L289.6,512.2 L294.1,513.0 L298.6,513.9 L303.1,514.8 L307.6,515.6 L312.1,516.5 L316.7,517.4 L321.2,518.3 L325.7,519.2 L330.2,520.1 L334.7,521.0 L339.2,521.9 L343.7,522.8 L348.2,523.7 L352.7,524.6 L357.2,525.6 L361.7,526.5 L366.2,527.4 L370.7,528.4 L375.3,529.3 L379.8,530.3 L384.3,531.2 L388.8,532.2 L393.3,533.2 L397.8,534.2 L402.3,535.1 L406.8,536.1 L411.3,537.1 L415.8,538.1 L420.3,539.1 L424.8,540.2 L429.4,541.2 L433.9,542.2 L438.4,543.2 L442.9,544.3 L447.4,545.3 L451.9,546.4 L456.4,547.4 L460.9,548.5 L465.4,549.6 L469.9,550.7 L474.4,551.8 L478.9,552.8 L483.4,553.9 L488.0,555.1 L492.5,556.2 L497.0,557.3 L501.5,558.4 L506.0,559.6 L510.5,560.7 L515.0,561.9 L519.5,563.1 L524.0,564.2 L528.5,565.4 L533.0,566.6 L537.5,567.8 L542.1,569.0 L546.6,570.2 L551.1,571.5 L555.6,572.7 L560.1,573.9 L564.6,575.2 L569.1,576.5 L573.6,577.7 L578.1,579.0 L582.6,580.3 L587.1,581.6 L591.6,583.0 L596.1,584.3 L600.7,585.6 L605.2,587.0 L609.7,588.3 L614.2,589.7 L618.7,591.1 L623.2,592.5 L627.7,593.9 L632.2,595.3 L636.7,596.8 L641.2,598.2 L645.7,599.7 L650.2,601.1 L654.8,602.6 L659.3,604.1 L663.8,605.7 L668.3,607.2 L672.8,608.7 L677.3,610.3 L681.8,611.9 L686.3,613.5 L690.8,615.1 L695.3,616.7 L699.8,618.3 L704.3,620.0 L708.8,621.7 L713.4,623.3 L717.9,625.1 L722.4,626.8 L726.9,628.5 L731.4,630.3 L735.9,632.1 L740.4,633.9 L744.9,635.7 L749.4,637.6 L753.9,639.4 L758.4,641.3 L762.9,643.2 L767.5,645.2 L772.0,647.1 L776.5,649.1 L781.0,651.1 L785.5,653.2 L790.0,655.2 L794.5,657.3 L799.0,659.4 L803.5,661.6 L808.0,663.8 L812.5,666.0 L817.0,668.2 L821.5,670.5 L826.1,672.8 L830.6,675.1 L835.1,677.5 L839.6,679.9 L844.1,682.3 L848.6,684.8 L853.1,687.3 L857.6,689.9 L862.1,692.5 L866.6,695.1 L871.1,697.8 L875.6,700.5 L880.2,703.3 L884.7,706.2 L889.2,709.0 L893.7,712.0 L898.2,715.0 L902.7,718.0 L907.2,721.1 L911.7,724.3 L916.2,727.5 L920.7,730.8 L925.2,734.2 L929.7,737.7 L934.2,741.2 L938.8,744.8 L943.3,748.5 L947.8,752.3 L952.3,756.2 L956.8,760.1 L961.3,764.2 L965.8,768.4 L970.3,772.7 L974.8,777.1 L979.3,781.6 L983.8,786.3 L988.3,791.1 L992.9,796.1 L997.4,801.2 L1001.9,806.6 L1006.4,812.0 L1010.9,817.7 L1015.4,823.6 L1019.9,829.8 L1024.4,836.2 L1028.9,842.8 L1033.4,849.8 L1037.9,857.1 L1042.4,864.7 L1046.9,872.7 L1051.5,881.2 L1056.0,890.1 L1060.5,899.6 L1065.0,909.7 L1069.5,920.4 L1074.0,932.0 L1078.5,944.5 L1083.0,958.1 L1087.5,973.0 L1092.0,989.4 L1096.5,1007.8 L1101.0,1028.6 L1105.6,1052.7 L1110.1,1081.1 L1114.6,1115.9 L1119.1,1160.8 L1123.6,1224.0 L1128.1,1332.1 M2034.2,501.4 L2029.7,502.2 L2025.2,503.0 L2020.7,503.8 L2016.2,504.6 L2011.7,505.4 L2007.2,506.3 L2002.6,507.1 L1998.1,507.9 L1993.6,508.8 L1989.1,509.6 L1984.6,510.5 L1980.1,511.3 L1975.6,512.2 L1971.1,513.0 L1966.6,513.9 L1962.1,514.8 L1957.6,515.6 L1953.1,516.5 L1948.5,517.4 L1944.0,518.3 L1939.5,519.2 L1935.0,520.1 L1930.5,521.0 L1926.0,521.9 L1921.5,522.8 L1917.0,523.7 L1912.5,524.6 L1908.0,525.6 L1903.5,526.5 L1899.0,527.4 L1894.5,528.4 L1889.9,529.3 L1885.4,530.3 L1880.9,531.2 L1876.4,532.2 L1871.9,533.2 L1867.4,534.2 L1862.9,535.1 L1858.4,536.1 L1853.9,537.1 L1849.4,538.1 L1844.9,539.1 L1840.4,540.2 L1835.8,541.2 L1831.3,542.2 L1826.8,543.2 L1822.3,544.3 L1817.8,545.3 L1813.3,546.4 L1808.8,547.4 L1804.3,548.5 L1799.8,549.6 L1795.3,550.7 L1790.8,551.8 L1786.3,552.8 L1781.8,553.9 L1777.2,555.1 L1772.7,556.2 L1768.2,557.3 L1763.7,558.4 L1759.2,559.6 L1754.7,560.7 L1750.2,561.9 L1745.7,563.1 L1741.2,564.2 L1736.7,565.4 L1732.2,566.6 L1727.7,567.8 L1723.1,569.0 L1718.6,570.2 L1714.1,571.5 L1709.6,572.7 L1705.1,573.9 L1700.6,575.2 L1696.1,576.5 L1691.6,577.7 L1687.1,579.0 L1682.6,580.3 L1678.1,581.6 L1673.6,583.0 L1669.1,584.3 L1664.5,585.6 L1660.0,587.0 L1655.5,588.3 L1651.0,589.7 L1646.5,591.1 L1642.0,592.5 L1637.5,593.9 L1633.0,595.3 L1628.5,596.8 L1624.0,598.2 L1619.5,599.7 L1615.0,601.1 L1610.4,602.6 L1605.9,604.1 L1601.4,605.7 L1596.9,607.2 L1592.4,608.7 L1587.9,610.3 L1583.4,611.9 L1578.9,613.5 L1574.4,615.1 L1569.9,616.7 L1565.4,618.3 L1560.9,620.0 L1556.4,621.7 L1551.8,623.3 L1547.3,625.1 L1542.8,626.8 L1538.3,628.5 L1533.8,630.3 L1529.3,632.1 L1524.8,633.9 L1520.3,635.7 L1515.8,637.6 L1511.3,639.4 L1506.8,641.3 L1502.3,643.2 L1497.7,645.2 L1493.2,647.1 L1488.7,649.1 L1484.2,651.1 L1479.7,653.2 L1475.2,655.2 L1470.7,657.3 L1466.2,659.4 L1461.7,661.6 L1457.2,663.8 L1452.7,666.0 L1448.2,668.2 L1443.7,670.5 L1439.1,672.8 L1434.6,675.1 L1430.1,677.5 L1425.6,679.9 L1421.1,682.3 L1416.6,684.8 L1412.1,687.3 L1407.6,689.9 L1403.1,692.5 L1398.6,695.1 L1394.1,697.8 L1389.6,700.5 L1385.0,703.3 L1380.5,706.2 L1376.0,709.0 L1371.5,712.0 L1367.0,715.0 L1362.5,718.0 L1358.0,721.1 L1353.5,724.3 L1349.0,727.5 L1344.5,730.8 L1340.0,734.2 L1335.5,737.7 L1331.0,741.2 L1326.4,744.8 L1321.9,748.5 L1317.4,752.3 L1312.9,756.2 L1308.4,760.1 L1303.9,764.2 L1299.4,768.4 L1294.9,772.7 L1290.4,777.1 L1285.9,781.6 L1281.4,786.3 L1276.9,791.1 L1272.3,796.1 L1267.8,801.2 L1263.3,806.6 L1258.8,812.0 L1254.3,817.7 L1249.8,823.6 L1245.3,829.8 L1240.8,836.2 L1236.3,842.8 L1231.8,849.8 L1227.3,857.1 L1222.8,864.7 L1218.3,872.7 L1213.7,881.2 L1209.2,890.1 L1204.7,899.6 L1200.2,909.7 L1195.7,920.4 L1191.2,932.0 L1186.7,944.5 L1182.2,958.1 L1177.7,973.0 L1173.2,989.4 L1168.7,1007.8 L1164.2,1028.6 L1159.6,1052.7 L1155.1,1081.1 L1150.6,1115.9 L1146.1,1160.8 L1141.6,1224.0 L1137.1,1332.1" stroke="#e00e0c" stroke-width="9"/>
<path d="M231.0,266.7 L235.5,268.2 L240.0,269.7 L244.5,271.2 L249.0,272.6 L253.5,274.2 L258.0,275.7 L262.6,277.2 L267.1,278.7 L271.6,280.2 L276.1,281.8 L280.6,283.3 L285.1,284.9 L289.6,286.5 L294.1,288.0 L298.6,289.6 L303.1,291.2 L307.6,292.8 L312.1,294.4 L316.7,296.1 L321.2,297.7 L325.7,299.3 L330.2,301.0 L334.7,302.6 L339.2,304.3 L343.7,306.0 L348.2,307.7 L352.7,309.4 L357.2,311.1 L361.7,312.8 L366.2,314.5 L370.7,316.2 L375.3,318.0 L379.8,319.7 L384.3,321.5 L388.8,323.3 L393.3,325.1 L397.8,326.9 L402.3,328.7 L406.8,330.5 L411.3,332.3 L415.8,334.2 L420.3,336.0 L424.8,337.9 L429.4,339.8 L433.9,341.7 L438.4,343.6 L442.9,345.5 L447.4,347.4 L451.9,349.4 L456.4,351.3 L460.9,353.3 L465.4,355.3 L469.9,357.2 L474.4,359.3 L478.9,361.3 L483.4,363.3 L488.0,365.4 L492.5,367.4 L497.0,369.5 L501.5,371.6 L506.0,373.7 L510.5,375.8 L515.0,378.0 L519.5,380.1 L524.0,382.3 L528.5,384.5 L533.0,386.7 L537.5,388.9 L542.1,391.1 L546.6,393.4 L551.1,395.7 L555.6,397.9 L560.1,400.3 L564.6,402.6 L569.1,404.9 L573.6,407.3 L578.1,409.7 L582.6,412.1 L587.1,414.5 L591.6,416.9 L596.1,419.4 L600.7,421.9 L605.2,424.4 L609.7,426.9 L614.2,429.4 L618.7,432.0 L623.2,434.6 L627.7,437.2 L632.2,439.8 L636.7,442.5 L641.2,445.2 L645.7,447.9 L650.2,450.6 L654.8,453.4 L659.3,456.2 L663.8,459.0 L668.3,461.8 L672.8,464.7 L677.3,467.6 L681.8,470.5 L686.3,473.5 L690.8,476.5 L695.3,479.5 L699.8,482.5 L704.3,485.6 L708.8,488.7 L713.4,491.9 L717.9,495.1 L722.4,498.3 L726.9,501.5 L731.4,504.8 L735.9,508.1 L740.4,511.5 L744.9,514.9 L749.4,518.3 L753.9,521.8 L758.4,525.3 L762.9,528.9 L767.5,532.5 L772.0,536.2 L776.5,539.9 L781.0,543.6 L785.5,547.4 L790.0,551.2 L794.5,555.1 L799.0,559.1 L803.5,563.1 L808.0,567.1 L812.5,571.3 L817.0,575.4 L821.5,579.7 L826.1,583.9 L830.6,588.3 L835.1,592.7 L839.6,597.2 L844.1,601.8 L848.6,606.4 L853.1,611.1 L857.6,615.9 L862.1,620.8 L866.6,625.7 L871.1,630.7 L875.6,635.8 L880.2,641.0 L884.7,646.3 L889.2,651.7 L893.7,657.2 L898.2,662.8 L902.7,668.5 L907.2,674.4 L911.7,680.3 L916.2,686.4 L920.7,692.6 L925.2,698.9 L929.7,705.3 L934.2,712.0 L938.8,718.7 L943.3,725.6 L947.8,732.7 L952.3,740.0 L956.8,747.4 L961.3,755.1 L965.8,762.9 L970.3,771.0 L974.8,779.3 L979.3,787.8 L983.8,796.6 L988.3,805.6 L992.9,814.9 L997.4,824.6 L1001.9,834.6 L1006.4,844.9 L1010.9,855.6 L1015.4,866.7 L1019.9,878.2 L1024.4,890.2 L1028.9,902.7 L1033.4,915.8 L1037.9,929.5 L1042.4,943.8 L1046.9,958.9 L1051.5,974.8 L1056.0,991.6 L1060.5,1009.4 L1065.0,1028.4 L1069.5,1048.7 L1074.0,1070.5 L1078.5,1094.0 L1083.0,1119.6 L1087.5,1147.6 L1092.0,1178.6 L1096.5,1213.3 L1101.0,1252.5 L1105.6,1297.9 L1110.1,1351.5 L1114.6,1417.1 L1119.1,1501.7 L1123.6,1620.9 L1128.1,1824.8 M2034.2,266.7 L2029.7,268.2 L2025.2,269.7 L2020.7,271.2 L2016.2,272.6 L2011.7,274.2 L2007.2,275.7 L2002.6,277.2 L1998.1,278.7 L1993.6,280.2 L1989.1,281.8 L1984.6,283.3 L1980.1,284.9 L1975.6,286.5 L1971.1,288.0 L1966.6,289.6 L1962.1,291.2 L1957.6,292.8 L1953.1,294.4 L1948.5,296.1 L1944.0,297.7 L1939.5,299.3 L1935.0,301.0 L1930.5,302.6 L1926.0,304.3 L1921.5,306.0 L1917.0,307.7 L1912.5,309.4 L1908.0,311.1 L1903.5,312.8 L1899.0,314.5 L1894.5,316.2 L1889.9,318.0 L1885.4,319.7 L1880.9,321.5 L1876.4,323.3 L1871.9,325.1 L1867.4,326.9 L1862.9,328.7 L1858.4,330.5 L1853.9,332.3 L1849.4,334.2 L1844.9,336.0 L1840.4,337.9 L1835.8,339.8 L1831.3,341.7 L1826.8,343.6 L1822.3,345.5 L1817.8,347.4 L1813.3,349.4 L1808.8,351.3 L1804.3,353.3 L1799.8,355.3 L1795.3,357.2 L1790.8,359.3 L1786.3,361.3 L1781.8,363.3 L1777.2,365.4 L1772.7,367.4 L1768.2,369.5 L1763.7,371.6 L1759.2,373.7 L1754.7,375.8 L1750.2,378.0 L1745.7,380.1 L1741.2,382.3 L1736.7,384.5 L1732.2,386.7 L1727.7,388.9 L1723.1,391.1 L1718.6,393.4 L1714.1,395.7 L1709.6,397.9 L1705.1,400.3 L1700.6,402.6 L1696.1,404.9 L1691.6,407.3 L1687.1,409.7 L1682.6,412.1 L1678.1,414.5 L1673.6,416.9 L1669.1,419.4 L1664.5,421.9 L1660.0,424.4 L1655.5,426.9 L1651.0,429.4 L1646.5,432.0 L1642.0,434.6 L1637.5,437.2 L1633.0,439.8 L1628.5,442.5 L1624.0,445.2 L1619.5,447.9 L1615.0,450.6 L1610.4,453.4 L1605.9,456.2 L1601.4,459.0 L1596.9,461.8 L1592.4,464.7 L1587.9,467.6 L1583.4,470.5 L1578.9,473.5 L1574.4,476.5 L1569.9,479.5 L1565.4,482.5 L1560.9,485.6 L1556.4,488.7 L1551.8,491.9 L1547.3,495.1 L1542.8,498.3 L1538.3,501.5 L1533.8,504.8 L1529.3,508.1 L1524.8,511.5 L1520.3,514.9 L1515.8,518.3 L1511.3,521.8 L1506.8,525.3 L1502.3,528.9 L1497.7,532.5 L1493.2,536.2 L1488.7,539.9 L1484.2,543.6 L1479.7,547.4 L1475.2,551.2 L1470.7,555.1 L1466.2,559.1 L1461.7,563.1 L1457.2,567.1 L1452.7,571.3 L1448.2,575.4 L1443.7,579.7 L1439.1,583.9 L1434.6,588.3 L1430.1,592.7 L1425.6,597.2 L1421.1,601.8 L1416.6,606.4 L1412.1,611.1 L1407.6,615.9 L1403.1,620.8 L1398.6,625.7 L1394.1,630.7 L1389.6,635.8 L1385.0,641.0 L1380.5,646.3 L1376.0,651.7 L1371.5,657.2 L1367.0,662.8 L1362.5,668.5 L1358.0,674.4 L1353.5,680.3 L1349.0,686.4 L1344.5,692.6 L1340.0,698.9 L1335.5,705.3 L1331.0,712.0 L1326.4,718.7 L1321.9,725.6 L1317.4,732.7 L1312.9,740.0 L1308.4,747.4 L1303.9,755.1 L1299.4,762.9 L1294.9,771.0 L1290.4,779.3 L1285.9,787.8 L1281.4,796.6 L1276.9,805.6 L1272.3,814.9 L1267.8,824.6 L1263.3,834.6 L1258.8,844.9 L1254.3,855.6 L1249.8,866.7 L1245.3,878.2 L1240.8,890.2 L1236.3,902.7 L1231.8,915.8 L1227.3,929.5 L1222.8,943.8 L1218.3,958.9 L1213.7,974.8 L1209.2,991.6 L1204.7,1009.4 L1200.2,1028.4 L1195.7,1048.7 L1191.2,1070.5 L1186.7,1094.0 L1182.2,1119.6 L1177.7,1147.6 L1173.2,1178.6 L1168.7,1213.3 L1164.2,1252.5 L1159.6,1297.9 L1155.1,1351.5 L1150.6,1417.1 L1146.1,1501.7 L1141.6,1620.9 L1137.1,1824.8" stroke="#0c02d8" stroke-width="9"/>
<path d="M234.0,444.0 L244.0,456.0 L254.0,484.0 L261.0,515.0 L273.0,539.0 L282.0,532.0 L290.0,505.0 L298.0,440.0 L303.0,348.0 L307.0,384.0 L330.0,378.0 L348.0,416.0 L358.6,455.7 L368.0,503.0 L377.6,551.0 L384.8,598.6 L391.9,551.0 L396.7,491.0 L398.0,394.0 L412.0,409.0 L427.6,443.8 L439.5,467.6 L453.8,491.4 L461.0,498.6 L472.9,481.9 L484.8,486.7 L491.9,515.2 L494.3,553.3 L505.0,545.0 L515.7,539.0 L530.0,529.5 L546.7,522.4 L558.6,520.0 L568.1,543.8 L580.0,581.9 L591.9,624.8 L601.4,598.6 L615.7,546.2 L627.6,510.5 L634.8,496.2 L641.9,527.1 L651.4,562.9 L663.3,586.7 L675.2,591.4 L687.1,596.2 L696.7,570.0 L708.6,581.9 L720.5,610.0 L728.6,597.9 L738.1,591.0 L750.0,607.6 L764.3,586.2 L778.6,583.8 L785.7,631.4 L795.2,648.1 L807.1,660.0 L823.8,674.3 L833.3,686.2 L847.6,693.3 L857.1,679.0 L866.7,707.6 L881.0,702.9 L895.2,686.2 L904.8,679.0 L919.0,686.2 L933.3,693.3 L942.9,702.9 L952.4,731.4 L961.9,741.0 L971.4,721.9 L978.6,736.2 L985.7,762.4 L992.9,788.6 L1000.0,805.2 L1014.3,807.6 L1033.3,812.4 L1052.4,810.0 L1066.7,802.9 L1076.2,800.5 L1081.0,736.2 L1085.7,819.5 L1100.0,814.8 L1119.0,817.1 L1140.5,821.9 L1162.9,824.3 L1171.4,821.4 L1197.1,800.0 L1208.6,800.0 L1221.4,812.9 L1234.3,814.3 L1242.9,808.6 L1257.1,797.1 L1271.4,785.7 L1285.7,774.3 L1297.1,762.9 L1307.1,755.7 L1321.4,755.7 L1335.7,750.0 L1350.0,754.3 L1364.3,742.9 L1378.6,728.6 L1392.9,717.1 L1399.0,711.4 L1403.8,666.2 L1415.7,668.6 L1430.0,671.0 L1439.5,661.4 L1449.0,651.9 L1461.0,680.5 L1472.9,649.5 L1482.4,637.6 L1491.9,644.8 L1496.7,678.1 L1511.0,606.7 L1518.1,590.0 L1532.4,606.7 L1541.9,625.7 L1549.0,668.6 L1558.6,628.1 L1568.1,592.4 L1577.6,547.1 L1585.7,570.0 L1595.7,645.7 L1600.0,570.0 L1610.0,584.3 L1615.7,598.6 L1624.3,584.3 L1637.1,541.4 L1648.6,484.3 L1657.1,520.0 L1662.9,555.7 L1670.0,617.1 L1678.6,598.6 L1688.6,527.1 L1695.7,562.9 L1702.9,572.9 L1717.1,570.0 L1731.4,572.9 L1745.7,598.6 L1757.1,624.3 L1767.1,570.0 L1770.0,527.1 L1774.3,584.3 L1780.0,684.3 L1788.6,627.1 L1793.9,575.3 L1798.6,661.2 L1803.2,621.8 L1817.1,631.0 L1838.0,656.6 L1854.3,626.4 L1870.5,621.8 L1872.9,552.1 L1877.5,482.5 L1879.8,426.8 L1886.8,482.5 L1896.1,575.3 L1897.2,392.0 L1905.3,540.5 L1919.3,568.4 L1930.9,552.1 L1942.5,547.5 L1951.8,505.7 L1961.1,540.5 L1968.0,505.7 L1975.0,443.0 L1982.0,482.5 L1988.9,517.3 L1995.9,436.1 L1999.4,345.5 L2005.2,482.5 L2009.8,436.1 L2021.4,470.9 L2031.0,454.6" stroke="#1a6ab4" stroke-width="9"/>
<path d="M232.4,548.6 L244.3,553.3 L258.0,545.0 L275.0,530.0 L290.7,533.6 L297.9,547.9 L315.7,472.9 L322.0,500.0 L335.0,540.0 L349.0,567.6 L353.8,586.7 L358.6,553.3 L365.0,585.0 L375.2,612.9 L396.7,631.9 L415.7,601.0 L437.1,593.8 L453.8,581.9 L465.7,562.9 L475.2,553.3 L487.1,586.7 L494.3,617.6 L511.0,631.9 L520.5,601.0 L527.6,534.3 L539.5,553.3 L553.8,591.4 L556.2,610.5 L558.6,643.8 L563.3,677.1 L572.9,712.9 L587.1,722.4 L596.7,681.9 L601.4,653.3 L611.0,634.3 L625.2,629.5 L639.5,634.3 L660.9,662.9 L675.2,689.0 L689.5,693.8 L706.2,705.7 L714.3,712.4 L723.8,698.1 L735.0,690.0 L742.9,674.3 L747.6,702.9 L760.0,690.0 L778.6,688.6 L790.5,707.6 L800.0,717.1 L811.9,721.9 L819.0,712.4 L828.6,726.7 L838.1,698.1 L850.0,690.0 L870.0,700.0 L890.0,705.0 L909.5,700.5 L923.8,693.3 L933.3,705.2 L945.2,726.7 L952.4,750.5 L961.9,774.3 L973.8,779.0 L985.7,779.0 L1002.4,781.4 L1012.0,800.0 L1021.4,826.7 L1028.6,845.7 L1040.5,862.4 L1057.1,876.7 L1071.4,886.2 L1092.9,891.0 L1116.7,891.0 L1140.5,893.3 L1159.5,898.1 L1176.2,891.0 L1188.1,893.3 L1210.0,888.0 L1230.0,880.0 L1250.0,870.0 L1262.0,845.0 L1270.0,832.0 L1296.7,823.0 L1327.6,830.5 L1353.8,811.4 L1368.1,785.2 L1391.9,768.6 L1410.9,751.9 L1432.4,735.2 L1446.7,725.7 L1468.1,701.9 L1487.1,668.6 L1499.0,654.3 L1515.7,668.6 L1530.0,678.1 L1539.5,682.9 L1549.0,649.5 L1558.6,630.5 L1568.1,642.4 L1585.7,651.4 L1605.7,677.1 L1612.9,650.0 L1617.1,612.9 L1640.0,634.3 L1645.7,652.9 L1652.9,650.0 L1682.9,638.6 L1695.7,610.0 L1730.0,608.6 L1742.9,584.3 L1760.0,551.4 L1777.1,561.4 L1798.6,563.7 L1817.1,547.5 L1833.4,577.7 L1861.2,554.5 L1877.5,545.2 L1910.0,528.9 L1928.6,519.6 L1942.5,524.3 L1956.4,519.6 L1975.0,524.3 L1988.9,517.3 L2002.8,521.9 L2012.1,526.6 L2031.0,521.9" stroke="#dc4f28" stroke-width="9" stroke-dasharray="37 31"/>
<path d="M233.6,222.9 L242.5,238.9 L246.1,265.7 L249.6,294.3 L251.4,321.1 L256.8,337.1 L265.7,347.9 L272.9,351.4 L283.6,331.8 L292.5,324.6 L297.9,238.9 L300.5,322.9 L306.8,360.4 L330.0,367.5 L342.5,219.3 L351.4,305.0 L355.0,376.4 L358.6,430.0 L362.0,448.0 L365.7,430.0 L378.2,403.2 L390.7,385.4 L399.6,376.4 L405.0,322.9 L408.6,269.3 L417.5,206.8 L424.6,251.4 L428.2,305.0 L433.6,340.7 L438.9,376.4 L444.3,412.1 L451.4,447.9 L456.2,467.6 L468.1,474.8 L487.1,467.6 L503.8,479.5 L515.7,486.7 L532.4,481.9 L539.5,443.8 L549.0,429.5 L556.2,448.6 L561.0,479.5 L565.7,515.2 L570.5,539.0 L580.0,515.2 L587.1,467.6 L591.9,491.4 L594.3,527.1 L596.7,562.9 L599.0,610.5 L601.4,634.3 L611.0,629.5 L622.9,624.8 L634.8,615.2 L646.7,562.9 L651.4,510.5 L658.6,527.1 L663.3,551.0 L670.5,586.7 L677.6,610.5 L687.1,634.3 L696.7,646.2 L706.2,634.3 L718.1,627.1 L727.6,629.5 L742.9,637.1 L764.3,622.9 L769.6,560.0 L772.0,441.0 L775.0,560.0 L777.0,640.0 L783.3,655.2 L800.0,667.1 L814.3,664.8 L828.6,671.9 L842.9,693.3 L852.4,712.4 L859.5,731.4 L861.9,750.5 L866.7,767.1 L881.0,774.3 L897.6,781.4 L902.4,791.0 L914.3,802.9 L928.6,805.2 L942.9,798.1 L954.8,795.7 L966.7,807.6 L981.0,817.1 L995.2,821.9 L1009.5,821.9 L1028.6,821.9 L1047.6,819.5 L1066.7,817.1 L1081.0,819.5 L1100.0,821.9 L1119.0,821.9 L1138.1,824.3 L1157.1,819.5 L1171.4,817.1 L1185.7,798.1 L1194.3,785.7 L1197.1,757.1 L1198.6,728.6 L1202.9,717.1 L1213.3,713.8 L1225.2,701.9 L1237.1,699.5 L1249.0,706.7 L1263.3,692.4 L1272.9,699.5 L1284.8,694.8 L1294.3,718.6 L1303.8,625.7 L1308.0,700.0 L1311.0,621.0 L1320.5,606.7 L1332.4,625.7 L1344.3,625.7 L1353.8,587.6 L1359.8,559.0 L1365.7,594.8 L1372.9,625.7 L1380.0,654.3 L1390.0,560.0 L1401.4,478.1 L1411.0,504.3 L1425.0,495.0 L1439.5,499.5 L1451.4,515.7 L1462.1,487.1 L1472.9,490.7 L1490.0,495.0 L1505.0,490.7 L1515.7,504.3 L1522.9,505.0 L1530.0,463.8 L1544.3,454.3 L1558.6,437.1 L1565.7,419.3 L1570.7,455.0 L1581.4,465.7 L1594.3,419.3 L1606.4,408.6 L1620.7,422.9 L1631.4,440.7 L1642.1,412.1 L1649.3,387.1 L1663.6,376.4 L1677.9,383.6 L1686.8,372.9 L1692.1,330.0 L1693.9,258.6 L1699.3,237.1 L1710.0,222.9 L1720.7,251.4 L1727.9,301.4 L1731.4,258.6 L1738.6,187.1 L1745.7,233.6 L1752.9,205.0 L1760.0,240.7 L1770.7,280.0 L1777.9,287.1 L1788.6,244.3 L1799.3,237.1 L1810.0,208.6 L1820.7,205.0 L1826.1,226.4" stroke="#e9b224" stroke-width="9" stroke-dasharray="10 7"/>
<path d="M605.7,208.6 L622.9,232.9 L634.3,248.6 L648.6,257.1 L665.7,265.7 L682.9,271.4 L685.7,242.9 L694.3,250.0 L705.7,265.7 L717.1,257.1 L724.3,255.7 L734.3,274.3 L748.6,285.7 L765.7,305.7 L782.9,291.4 L788.6,308.6 L798.6,341.4 L815.7,344.3 L822.9,358.6 L831.4,382.9 L844.3,372.9 L860.0,362.9 L874.3,368.6 L885.7,383.6 L894.6,401.4 L903.6,380.0 L914.3,415.7 L932.1,415.7 L946.4,430.0 L960.7,451.4 L978.6,483.6 L985.7,508.6 L996.4,533.6 L1014.3,531.8 L1028.6,533.6 L1044.6,521.1 L1053.6,533.6 L1057.1,560.0 L1066.7,583.8 L1076.2,614.8 L1083.3,638.6 L1090.5,650.5 L1097.6,669.5 L1109.5,676.7 L1128.6,683.8 L1142.9,691.0 L1158.9,694.3 L1161.9,683.8 L1166.7,660.0 L1176.2,631.4 L1185.7,600.5 L1194.3,569.3 L1196.1,526.4 L1196.1,472.9 L1197.9,451.4 L1205.0,430.0 L1215.7,401.4 L1230.0,380.0 L1244.3,358.6 L1253.2,344.3 L1258.6,322.9 L1265.7,340.7 L1276.4,358.6 L1290.7,347.9 L1305.0,326.4 L1312.1,337.1 L1322.9,347.9 L1337.1,355.0 L1347.9,355.0 L1362.1,340.7 L1372.9,355.0 L1380.0,383.6 L1387.1,358.6 L1401.4,340.7 L1415.7,319.3 L1430.0,301.4 L1440.7,269.3 L1451.4,280.0 L1469.3,290.7 L1481.8,294.3 L1487.1,272.9 L1497.9,237.1 L1508.6,215.7 L1522.9,197.9 L1537.1,180.0 L1551.4,165.7 L1563.9,155.0 L1576.4,169.3 L1594.3,190.7 L1612.1,201.4 L1617.1,201.4 L1631.4,180.0 L1649.3,165.7 L1667.1,162.1 L1688.6,165.7 L1692.1,133.6 L1693.9,103.2" stroke="#7a2a86" stroke-width="9" stroke-dasharray="37 7 19 7"/>
<path d="M233.6,494.3 L244.3,430.0 L258.6,422.9 L271.1,362.1 L283.6,430.0 L292.5,512.1 L299.6,401.4 L313.9,458.6 L340.7,365.7 L353.2,447.9 L369.3,512.1 L387.1,487.1 L397.9,512.1 L430.0,408.6 L444.3,501.4 L465.7,387.1 L480.0,487.1 L497.9,605.0 L508.6,539.0 L515.7,510.5 L527.6,508.1 L539.5,524.8 L551.4,553.3 L563.3,567.6 L575.2,567.6 L587.1,560.5 L601.4,553.3 L611.0,553.3 L622.9,562.9 L634.8,586.7 L646.7,601.0 L658.6,610.5 L670.5,620.0 L682.4,627.1 L694.3,605.7 L703.8,567.6 L709.5,607.6 L716.7,631.4 L723.8,650.5 L740.5,662.4 L759.5,671.9 L778.6,679.0 L800.0,681.4 L819.0,676.7 L833.3,662.4 L845.2,643.3 L857.1,631.4 L873.8,638.6 L888.1,645.7 L902.4,636.2 L914.3,633.8 L923.8,631.4 L931.0,614.8 L938.1,631.4 L947.6,650.5 L952.4,626.7 L961.9,629.0 L971.4,652.9 L981.0,674.3 L988.1,679.0 L995.2,645.7 L1000.0,667.1 L1007.1,714.8 L1014.3,755.2 L1021.4,767.1 L1028.6,745.7 L1038.1,762.4 L1047.6,774.3 L1057.1,783.8 L1069.0,781.4 L1078.6,786.2 L1090.5,750.5 L1092.9,798.1 L1104.8,810.0 L1114.3,814.3 L1128.6,820.0 L1150.0,824.3 L1161.4,818.6 L1168.6,805.7 L1180.0,808.6 L1191.4,808.6 L1207.1,812.9 L1218.6,802.9 L1231.4,771.4 L1237.1,780.0 L1242.9,800.0 L1251.4,800.0 L1260.0,788.6 L1267.1,774.3 L1274.3,757.1 L1285.7,757.1 L1295.7,752.9 L1302.9,728.6 L1311.4,707.1 L1325.2,692.4 L1334.8,668.6 L1339.5,644.8 L1349.0,637.6 L1363.3,628.1 L1380.0,611.4 L1389.5,571.0 L1396.7,530.5 L1406.2,559.0 L1413.3,582.9 L1419.3,523.3 L1425.2,468.6 L1434.8,492.4 L1439.5,482.9 L1453.8,494.8 L1468.1,509.0 L1477.6,554.3 L1487.1,509.0 L1496.7,463.8 L1502.6,447.1 L1508.6,499.5 L1513.3,554.3 L1522.9,535.2 L1534.8,530.5 L1549.0,535.2 L1558.6,540.0 L1572.9,528.1 L1578.6,527.1 L1587.1,537.6 L1597.1,552.9 L1612.9,507.1 L1621.4,524.3 L1634.3,522.9 L1652.9,507.1 L1677.1,527.1 L1688.6,484.3 L1697.1,475.7 L1710.0,494.3 L1713.6,462.1 L1731.4,469.3 L1749.3,462.1 L1760.0,469.3 L1767.1,440.7 L1777.9,465.7 L1795.7,476.4 L1803.2,482.5 L1826.4,473.2 L1845.0,463.9 L1858.9,440.7 L1872.9,412.8 L1884.5,403.6 L1900.7,417.5 L1910.0,443.0 L1912.3,466.2 L1928.6,463.9 L1942.5,470.9 L1958.7,473.2 L1970.3,459.3 L1982.0,463.9 L1988.9,477.8 L2002.8,412.8 L2009.8,426.8 L2019.1,417.5 L2031.0,405.9" stroke="#7fa82f" stroke-width="9"/>
</g>
<path d="M456.4,55.6 v17 M456.4,1456.2 v-17 M681.8,55.6 v17 M681.8,1456.2 v-17 M907.2,55.6 v17 M907.2,1456.2 v-17 M1132.6,55.6 v17 M1132.6,1456.2 v-17 M1358.0,55.6 v17 M1358.0,1456.2 v-17 M1583.4,55.6 v17 M1583.4,1456.2 v-17 M1808.8,55.6 v17 M1808.8,1456.2 v-17 M233.8,1282.5 h16 M2031.4,1282.5 h-16 M233.8,1108.6 h16 M2031.4,1108.6 h-16 M233.8,931.5 h16 M2031.4,931.5 h-16 M233.8,757.5 h16 M2031.4,757.5 h-16 M233.8,580.6 h16 M2031.4,580.6 h-16 M233.8,406.5 h16 M2031.4,406.5 h-16 M233.8,229.7 h16 M2031.4,229.7 h-16" stroke="#262626" stroke-width="2.5" fill="none"/>
<rect x="233.8" y="55.6" width="1797.6000000000001" height="1400.6000000000001" fill="none" stroke="#262626" stroke-width="3"/>
<text x="209" y="1477.0" font-family="'Liberation Sans', Arial, Helvetica, sans-serif" font-weight="bold" font-size="56.5" fill="#262626" text-anchor="end">40</text>
<text x="209" y="1303.3" font-family="'Liberation Sans', Arial, Helvetica, sans-serif" font-weight="bold" font-size="56.5" fill="#262626" text-anchor="end">50</text>
<text x="209" y="1129.4" font-family="'Liberation Sans', Arial, Helvetica, sans-serif" font-weight="bold" font-size="56.5" fill="#262626" text-anchor="end">60</text>
<text x="209" y="952.3" font-family="'Liberation Sans', Arial, Helvetica, sans-serif" font-weight="bold" font-size="56.5" fill="#262626" text-anchor="end">70</text>
<text x="209" y="778.3" font-family="'Liberation Sans', Arial, Helvetica, sans-serif" font-weight="bold" font-size="56.5" fill="#262626" text-anchor="end">80</text>
<text x="209" y="601.4" font-family="'Liberation Sans', Arial, Helvetica, sans-serif" font-weight="bold" font-size="56.5" fill="#262626" text-anchor="end">90</text>
<text x="209" y="427.3" font-family="'Liberation Sans', Arial, Helvetica, sans-serif" font-weight="bold" font-size="56.5" fill="#262626" text-anchor="end">100</text>
<text x="209" y="250.5" font-family="'Liberation Sans', Arial, Helvetica, sans-serif" font-weight="bold" font-size="56.5" fill="#262626" text-anchor="end">110</text>
<text x="209" y="76.4" font-family="'Liberation Sans', Arial, Helvetica, sans-serif" font-weight="bold" font-size="56.5" fill="#262626" text-anchor="end">120</text>
<text x="231.0" y="1537.3" font-family="'Liberation Sans', Arial, Helvetica, sans-serif" font-weight="bold" font-size="55.5" fill="#262626" text-anchor="middle">-200</text>
<text x="456.4" y="1537.3" font-family="'Liberation Sans', Arial, Helvetica, sans-serif" font-weight="bold" font-size="55.5" fill="#262626" text-anchor="middle">-150</text>
<text x="681.8" y="1537.3" font-family="'Liberation Sans', Arial, Helvetica, sans-serif" font-weight="bold" font-size="55.5" fill="#262626" text-anchor="middle">-100</text>
<text x="907.2" y="1537.3" font-family="'Liberation Sans', Arial, Helvetica, sans-serif" font-weight="bold" font-size="55.5" fill="#262626" text-anchor="middle">-50</text>
<text x="1132.6" y="1537.3" font-family="'Liberation Sans', Arial, Helvetica, sans-serif" font-weight="bold" font-size="55.5" fill="#262626" text-anchor="middle">0</text>
<text x="1358.0" y="1537.3" font-family="'Liberation Sans', Arial, Helvetica, sans-serif" font-weight="bold" font-size="55.5" fill="#262626" text-anchor="middle">50</text>
<text x="1583.4" y="1537.3" font-family="'Liberation Sans', Arial, Helvetica, sans-serif" font-weight="bold" font-size="55.5" fill="#262626" text-anchor="middle">100</text>
<text x="1808.8" y="1537.3" font-family="'Liberation Sans', Arial, Helvetica, sans-serif" font-weight="bold" font-size="55.5" fill="#262626" text-anchor="middle">150</text>
<text x="2034.2" y="1537.3" font-family="'Liberation Sans', Arial, Helvetica, sans-serif" font-weight="bold" font-size="55.5" fill="#262626" text-anchor="middle">200</text>
<text x="1133" y="1623.3" font-family="'Liberation Sans', Arial, Helvetica, sans-serif" font-weight="bold" font-size="62" fill="#262626" text-anchor="middle">Distance (m)</text>
<text transform="translate(87.4,757.9) rotate(-90)" x="0" y="0" font-family="'Liberation Sans', Arial, Helvetica, sans-serif" font-weight="bold" font-size="62" fill="#262626" text-anchor="middle">Path Loss (dB)</text>
<rect x="1563.8" y="706.6" width="467.60000000000014" height="749.6" fill="#fff" stroke="#262626" stroke-width="2.5"/>
<path d="M1577,743.1 H1721" stroke="#e00e0c" stroke-width="9" stroke-dasharray="37 31"/>
<text x="1731.5" y="766.4" font-family="'Liberation Sans', Arial, Helvetica, sans-serif" font-weight="bold" font-size="51" fill="#000">SMaLoS</text>
<path d="M1577,810.72 H1721" stroke="#0c02d8" stroke-width="9" stroke-dasharray="37 31"/>
<text x="1731.5" y="833.8" font-family="'Liberation Sans', Arial, Helvetica, sans-serif" font-weight="bold" font-size="51" fill="#000">SMaNLoS</text>
<path d="M1577,878.34 H1721" stroke="#e00e0c" stroke-width="9" stroke-dasharray="10 7"/>
<text x="1731.5" y="901.1" font-family="'Liberation Sans', Arial, Helvetica, sans-serif" font-weight="bold" font-size="51" fill="#000">UMaLoS</text>
<path d="M1577,945.96 H1721" stroke="#0c02d8" stroke-width="9" stroke-dasharray="10 7"/>
<text x="1731.5" y="968.5" font-family="'Liberation Sans', Arial, Helvetica, sans-serif" font-weight="bold" font-size="51" fill="#000">UMaNLoS</text>
<path d="M1577,1013.58 H1721" stroke="#e00e0c" stroke-width="9"/>
<text x="1731.5" y="1035.8" font-family="'Liberation Sans', Arial, Helvetica, sans-serif" font-weight="bold" font-size="51" fill="#000">RMaLoS</text>
<path d="M1577,1081.2 H1721" stroke="#0c02d8" stroke-width="9"/>
<text x="1731.5" y="1103.2" font-family="'Liberation Sans', Arial, Helvetica, sans-serif" font-weight="bold" font-size="51" fill="#000">RMaNLoS</text>
<path d="M1577,1148.8200000000002 H1721" stroke="#1a6ab4" stroke-width="9"/>
<text x="1731.5" y="1170.6" font-family="'Liberation Sans', Arial, Helvetica, sans-serif" font-weight="bold" font-size="51" fill="#000">crossing #1</text>
<path d="M1577,1216.44 H1721" stroke="#dc4f28" stroke-width="9" stroke-dasharray="37 31"/>
<text x="1731.5" y="1237.9" font-family="'Liberation Sans', Arial, Helvetica, sans-serif" font-weight="bold" font-size="51" fill="#000">crossing #2</text>
<path d="M1577,1284.06 H1721" stroke="#e9b224" stroke-width="9" stroke-dasharray="10 7"/>
<text x="1731.5" y="1305.3" font-family="'Liberation Sans', Arial, Helvetica, sans-serif" font-weight="bold" font-size="51" fill="#000">crossing #3</text>
<path d="M1577,1351.68 H1721" stroke="#7a2a86" stroke-width="9" stroke-dasharray="37 7 19 7"/>
<text x="1731.5" y="1372.6" font-family="'Liberation Sans', Arial, Helvetica, sans-serif" font-weight="bold" font-size="51" fill="#000">crossing #4</text>
<path d="M1577,1419.3000000000002 H1721" stroke="#7fa82f" stroke-width="9"/>
<text x="1731.5" y="1440.0" font-family="'Liberation Sans', Arial, Helvetica, sans-serif" font-weight="bold" font-size="51" fill="#000">crossing #5</text>
</svg>
</body></html>
